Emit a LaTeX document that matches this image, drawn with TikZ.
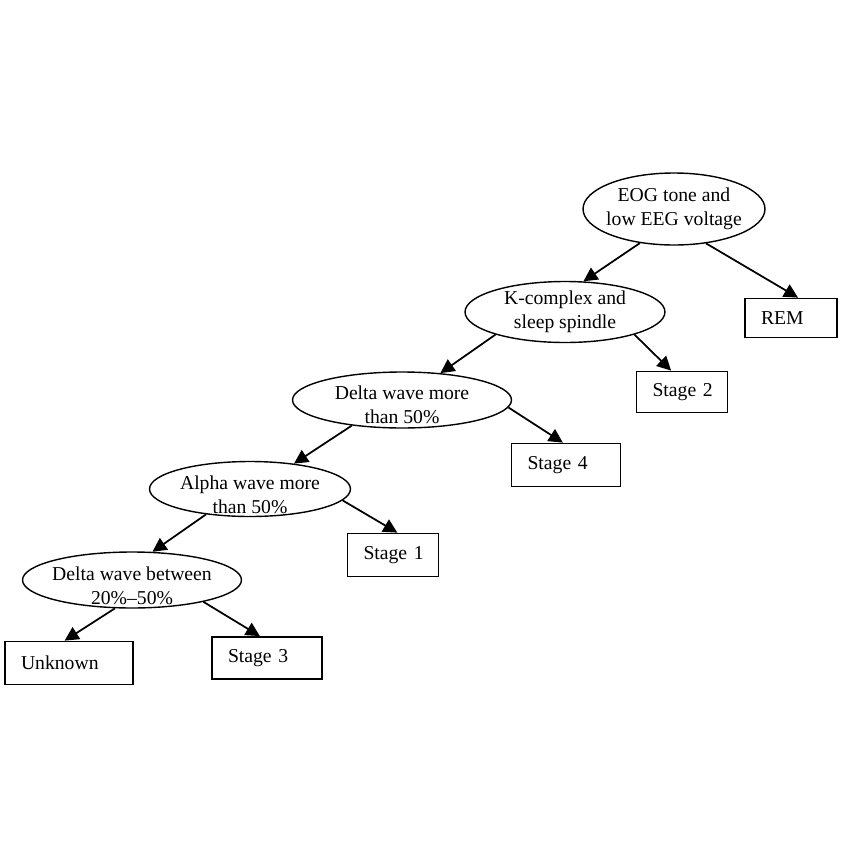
\documentclass[tikz,border=0pt]{standalone}
\usepackage{fontspec}
\setmainfont{Liberation Serif}
\usetikzlibrary{shapes.geometric, arrows.meta}

\begin{document}
\begin{tikzpicture}[x=0.02cm, y=-0.02cm, line width=1pt, font=\fontsize{11.2}{13.6}\selectfont,
  >={Triangle[length=2.8mm, width=2.8mm]},
  block/.style={rectangle, draw, inner xsep=0.02cm, inner ysep=0pt, minimum height=0.86cm, text width=#1, align=left, execute at begin node=\hspace*{0.3cm}},
  testnode/.style={ellipse, draw, line width=0.8pt, inner sep=0pt}]

  \useasboundingbox (0,0) rectangle (840,859);

  \node[testnode, minimum width=3.64cm, minimum height=1.44cm] (eogtest) at (674,209) {};
  \node[align=center] (eogtext) at (eogtest.center) {EOG tone and\\low EEG voltage};
  \node[testnode, minimum width=4.0cm, minimum height=1.22cm] (kcomplex) at (565,312) {};
  \node[align=center] (kctext) at (kcomplex.center) {K-complex and\\sleep spindle};
  \node[testnode, minimum width=4.38cm, minimum height=1.12cm] (deltamore) at (402,400) {};
  \node[align=center, yshift=-0.1cm] (dmtext) at (deltamore.center) {Delta wave more\\than 50\%};
  \node[testnode, minimum width=4.02cm, minimum height=1.1cm] (alphamore) at (250,489) {};
  \node[align=center, yshift=-0.12cm] (amtext) at (alphamore.center) {Alpha wave more\\than 50\%};
  \node[testnode, minimum width=4.38cm, minimum height=1.12cm] (deltabetween) at (132,580) {};
  \node[align=center, yshift=-0.12cm] (dbtext) at (deltabetween.center) {Delta wave between\\20\%--50\%};

  \node[block=1.80cm, minimum height=0.78cm] (rem) at (791,318) {REM};
  \node[block=1.78cm, minimum height=0.82cm] (stagetwo) at (682,392) {Stage 2};
  \node[block=2.14cm] (stagefour) at (566,465) {Stage 4};
  \node[block=1.78cm] (stageone) at (393,555) {Stage 1};
  \node[block=2.52cm] (unknown) at (69,663) {Unknown};
  \node[block=2.16cm, minimum height=0.84cm] (stagethree) at (267,658) {Stage 3};

  \draw[->] (eogtest.225) -- (kcomplex.59);
  \draw[->] (eogtest.313) -- (rem.71);
  \draw[->] (kcomplex.198) -- (deltamore.35);
  \draw[->] (kcomplex.342) -- (stagetwo.117);
  \draw[->] (deltamore.207) -- (alphamore.30);
  \draw[->] (deltamore.356) -- (stagefour.98);
  \draw[->] (alphamore.210) -- (deltabetween.54);
  \draw[->] (alphamore.353) -- (stageone.79);
  \draw[->] (deltabetween.239) -- (unknown.101);
  \draw[->] (deltabetween.343) -- (stagethree.108);
\end{tikzpicture}
\end{document}
